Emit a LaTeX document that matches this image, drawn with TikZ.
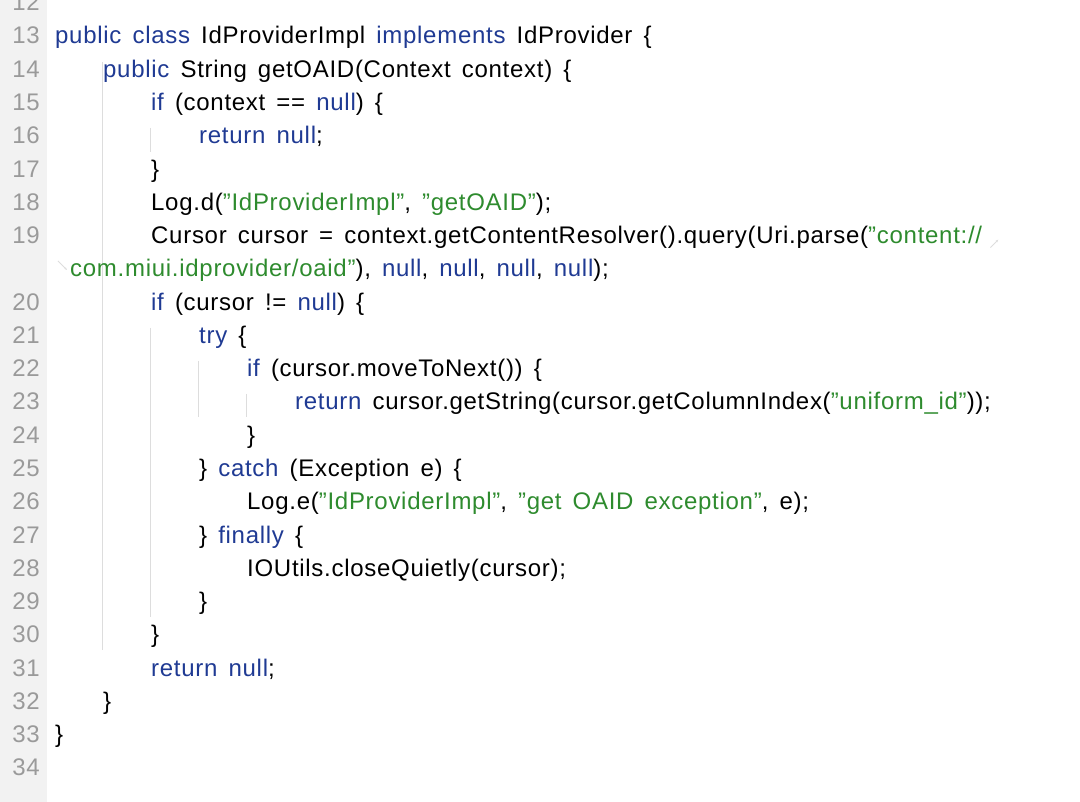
\documentclass[tikz,border=0pt]{standalone}
\usepackage{fontspec}
\setmainfont{Liberation Sans}[LetterSpace=3, WordSpace=1.5]
\usetikzlibrary{arrows.meta}
\definecolor{kw}{HTML}{1F3A93}
\definecolor{str}{HTML}{2E8B2E}
\definecolor{num}{HTML}{9A9A9A}
\definecolor{gut}{HTML}{F2F2F2}
\definecolor{guide}{HTML}{DDDDDD}
\newcommand{\kw}[1]{\textcolor{kw}{#1}}
\newcommand{\str}[1]{\textcolor{str}{#1}}
\newcommand{\q}{\symbol{"22}}

\begin{document}
\begin{tikzpicture}[x=1pt, y=-1pt,
    code/.style={anchor=base west, inner sep=0pt, font=\fontsize{24}{24}\selectfont},
    lnum/.style={anchor=base east, inner sep=0pt, text=num, font=\fontsize{24}{24}\selectfont},
    indent/.style={draw=guide, line width=1pt}
 ]
\useasboundingbox (0,0) rectangle (1080,802);
\fill[gut] (0,0) rectangle (47,802);

% line numbers
\foreach \n/\r in {12/-1,13/0,14/1,15/2,16/3,17/4,18/5,19/6,20/8,21/9,22/10,23/11,24/12,25/13,26/14,27/15,28/16,29/17,30/18,31/19,32/20,33/21,34/22}
  \node[lnum] (n\n) at (40,{44+33.27*\r}) {\n};

% indent guides
\draw[indent] (102,62) -- (102,650);
\draw[indent] (150,128) -- (150,152);
\draw[indent] (150,328) -- (150,617);
\draw[indent] (198,361) -- (198,417);
\draw[indent] (246,394) -- (246,417);

\node[code] (l13) at (55,44) {\kw{public} \kw{class} IdProviderImpl \kw{implements} IdProvider \{};
\node[code] (l14) at (103,77.3) {\kw{public} String getOAID(Context context) \{};
\node[code] (l15) at (151,110.5) {\kw{if} (context == \kw{null}) \{};
\node[code] (l16) at (199,143.8) {\kw{return} \kw{null};};
\node[code] (l17) at (151,177.1) {\}};
\node[code] (l18) at (151,210.4) {Log.d(\str{\q IdProviderImpl\q}, \str{\q getOAID\q});};
\node[code] (l19) at (151,243.6) {Cursor cursor = context.getContentResolver().query(Uri.parse(\str{\q content://}};
\node[code] (l19b) at (70,276.9) {\str{com.miui.idprovider/oaid\q}), \kw{null}, \kw{null}, \kw{null}, \kw{null});};
\node[code] (l20) at (151,310.2) {\kw{if} (cursor != \kw{null}) \{};
\node[code] (l21) at (199,343.4) {\kw{try} \{};
\node[code] (l22) at (247,376.7) {\kw{if} (cursor.moveToNext()) \{};
\node[code] (l23) at (295,410) {\kw{return} cursor.getString(cursor.getColumnIndex(\str{\q uniform\_id\q}));};
\node[code] (l24) at (247,443.2) {\}};
\node[code] (l25) at (199,476.5) {\} \kw{catch} (Exception e) \{};
\node[code] (l26) at (247,509.8) {Log.e(\str{\q IdProviderImpl\q}, \str{\q get OAID exception\q}, e);};
\node[code] (l27) at (199,543.1) {\} \kw{finally} \{};
\node[code] (l28) at (247,576.3) {IOUtils.closeQuietly(cursor);};
\node[code] (l29) at (199,609.6) {\}};
\node[code] (l30) at (151,642.9) {\}};
\node[code] (l31) at (151,676.1) {\kw{return} \kw{null};};
\node[code] (l32) at (103,709.4) {\}};
\node[code] (l33) at (55,742.7) {\}};

% wrap markers
\draw[guide, line width=0.8pt, -{Stealth[length=3pt]}] ([xshift=8pt,yshift=-4pt]l19.base east) -- ++(8,-8);
\draw[guide, line width=0.8pt, -{Stealth[length=3pt]}] (58,261) -- (67,270);
\end{tikzpicture}
\end{document}
